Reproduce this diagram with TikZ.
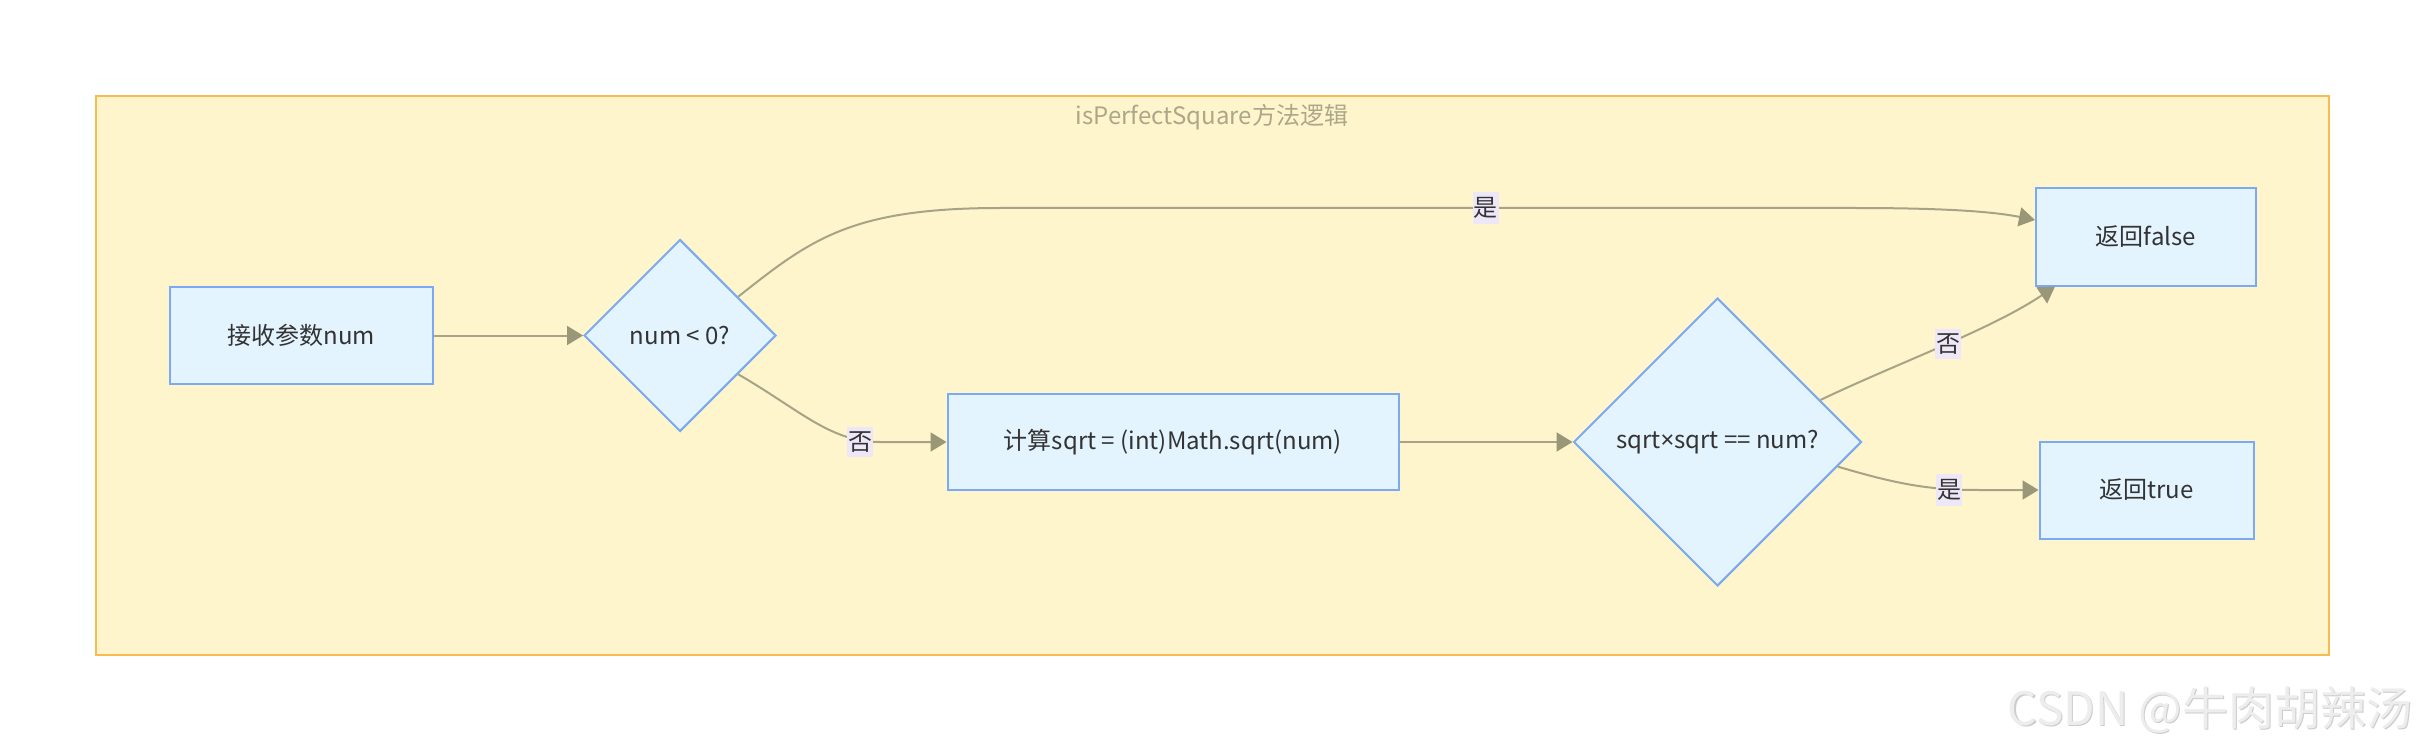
\documentclass[tikz,border=0pt]{standalone}
\usepackage{fontspec}
\setmainfont{Noto Sans CJK SC}
\newfontfamily\latinsym{Noto Sans}
\usetikzlibrary{shapes.geometric,arrows.meta,calc}
\definecolor{clusterfill}{HTML}{FFF5CC}
\definecolor{clusterdraw}{HTML}{F7BB50}
\definecolor{nodefill}{HTML}{E3F4FE}
\definecolor{nodedraw}{HTML}{7BA9F2}
\definecolor{edgecol}{HTML}{A7A386}
\definecolor{tipcol}{HTML}{9A9678}
\definecolor{lblbg}{HTML}{EEE7F8}
\definecolor{titlecol}{HTML}{ABA788}
\definecolor{txtcol}{HTML}{333333}
\tikzset{
  basefont/.style={font=\fontsize{24}{28}\selectfont},
  procbox/.style={basefont, draw=nodedraw, fill=nodefill, line width=2pt, rectangle, inner sep=0pt, text=txtcol},
  decbox/.style={basefont, draw=nodedraw, fill=nodefill, line width=2pt, diamond, aspect=1, inner sep=0pt, text=txtcol},
  flow/.style={draw=edgecol, line width=2pt, -{Triangle[length=16pt,width=19pt,fill=tipcol,color=tipcol]}},
  elabel/.style={basefont, fill=lblbg, inner xsep=1pt, inner ysep=5pt, text=txtcol},
}
\begin{document}
\begin{tikzpicture}[x=1pt,y=-1pt]
\useasboundingbox (0,0) rectangle (2424,751);
\fill[white] (0,0) rectangle (2424,751);
% cluster
\draw[fill=clusterfill, draw=clusterdraw, line width=1.5pt] (96,96) rectangle (2329,655);
\node[basefont, text=titlecol] (title) at (1212,117) {isPerfectSquare方法逻辑};
% nodes
\node[procbox, minimum width=263pt, minimum height=97pt] (A) at (301.5,335.5) {接收参数num};
\node[decbox, minimum width=192pt, minimum height=192pt] (B) at (680,335.5) {num < 0?};
\node[procbox, minimum width=451pt, minimum height=96pt] (C) at (1173,442) {计算sqrt = (int)Math.sqrt(num)};
\node[decbox, minimum width=288pt, minimum height=288pt] (D) at (1717.5,442) {sqrt{\latinsym ×}sqrt == num?};
\node[procbox, minimum width=220pt, minimum height=97pt] (E) at (2146,237) {返回false};
\node[procbox, minimum width=214pt, minimum height=97pt] (F) at (2146.5,490) {返回true};
% label positions
\coordinate (lbE) at (1485.6,208);
\coordinate (lbC) at (860,442);
\coordinate (ldE) at (1948,344);
\coordinate (ldF) at (1949,490);
% edges
\draw[flow] (A.east) -- (B.west);
\draw[flow] ($(B.north)!0.6!(B.east)$) .. controls (810,240) and (850,208) .. (1000,208) -- (1855,208) .. controls (1960,208) and (2000,213) .. (E.west |- 0,220);
\draw[flow] ($(B.south)!0.6!(B.east)$) .. controls (800,410) and (830,442) .. (880,442) -- (C.west);
\draw[flow] (C.east) -- (D.west);
\draw[flow] ($(D.north)!0.71!(D.east)$) .. controls (1900,362) and (1990,330) .. ($(E.south west)+(20,0)$);
\draw[flow] ($(D.east)!0.17!(D.south)$) .. controls (1900,485) and (1930,490) .. (1980,490) -- (F.west);
% labels
\node[elabel] (l1) at (lbE) {是};
\node[elabel] (l2) at (lbC) {否};
\node[elabel] (l3) at (ldE) {否};
\node[elabel] (l4) at (ldF) {是};
% watermark
\node[font=\fontsize{46}{50}\selectfont, text=black!20] (wms) at (2211.2,711.2) {CSDN @牛肉胡辣汤};
\node[font=\fontsize{46}{50}\selectfont, text=black!7] (wm) at (2210,710) {CSDN @牛肉胡辣汤};
\end{tikzpicture}
\end{document}
